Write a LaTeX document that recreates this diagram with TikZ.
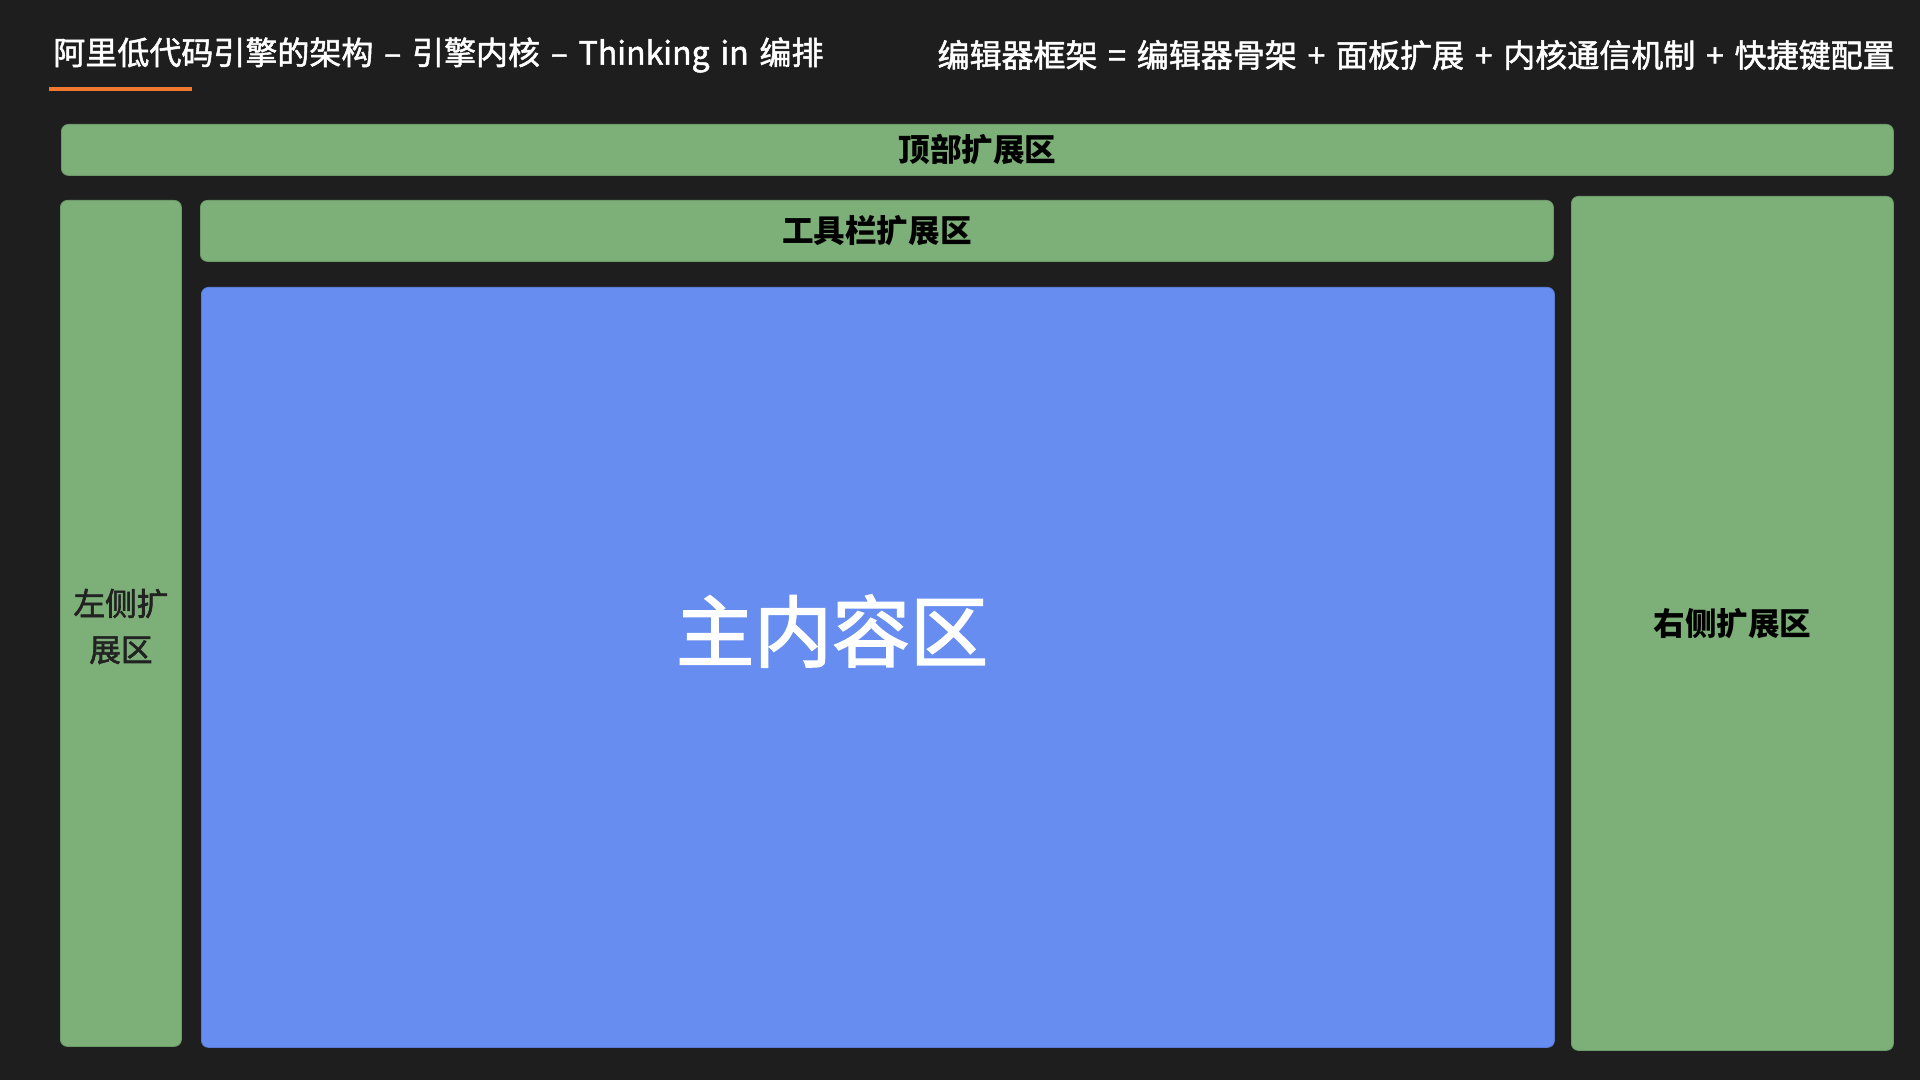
\documentclass[tikz,border=0pt]{standalone}
\usepackage{fontspec}
\setmainfont{Noto Sans CJK SC}
\newfontfamily\cjk{Noto Sans CJK SC}
\newfontfamily\cjkt[WordSpace=1.5]{Noto Sans CJK SC}
\newcommand\medtext[2]{\special{pdf:literal direct 2 Tr #1 w}#2\special{pdf:literal direct 0 Tr}}
\definecolor{bgc}{HTML}{1E1E1E}
\definecolor{greenc}{HTML}{7DAF78}
\definecolor{greenb}{HTML}{6C9A68}
\definecolor{bluec}{HTML}{678DF1}
\definecolor{blueb}{HTML}{5A7BD6}
\definecolor{orangec}{HTML}{F07830}
\definecolor{darktxt}{HTML}{222222}
\tikzset{
  zone/.style={draw=greenb, line width=0.4pt, fill=greenc, rounded corners=3.5pt, anchor=north west, inner sep=0pt},
  mainzone/.style={draw=blueb, line width=0.4pt, fill=bluec, rounded corners=3.5pt, anchor=north west, inner sep=0pt},
  zlabel/.style={font=\cjk\bfseries\fontsize{15.8}{19}\selectfont, text=black},
  ttl/.style={font=\cjkt\fontsize{16}{19}\selectfont, text=white, inner sep=0pt}
}
\begin{document}
\begin{tikzpicture}[x=0.5pt, y=-0.5pt]
\fill[bgc] (0,0) rectangle (1920,1080);
\useasboundingbox (0,0) rectangle (1920,1080);
% titles
\node[ttl, anchor=west] (title) at (53,55) {\medtext{0.25}{阿里低代码引擎的架构 – 引擎内核 – Thinking in 编排}};
\node[ttl, anchor=east] (formula) at (1895,55) {\medtext{0.25}{编辑器框架 = 编辑器骨架 + 面板扩展 + 内核通信机制 + 快捷键配置}};
\coordinate (ulA) at (49,89);
\coordinate (ulB) at (192,89);
\draw[orangec, line width=2pt] (ulA) -- (ulB);
% zones
\node[zone, minimum width=916pt, minimum height=25.5pt] (top) at (61,124) {};
\node[zlabel] (toplbl) at (top.center) {顶部扩展区};
\node[zone, minimum width=60.5pt, minimum height=423pt] (left) at (60,200) {};
\node[font=\cjk\fontsize{15.8}{23}\selectfont, text=darktxt, align=center] (leftlbl) at ([yshift=-1.5pt]left.center) {\medtext{0.3}{左侧扩}\\\medtext{0.3}{展区}};
\node[zone, minimum width=676.5pt, minimum height=30.5pt] (tool) at (200,200) {};
\node[zlabel] (toollbl) at (tool.center) {工具栏扩展区};
\node[mainzone, minimum width=676.5pt, minimum height=380pt] (main) at (201,287) {};
\node[font=\cjk\fontsize{39}{45}\selectfont, text=white, inner sep=0pt] (mainlbl) at (832,631) {\medtext{0.8}{主内容区}};
\node[zone, minimum width=161pt, minimum height=427pt] (right) at (1571,196) {};
\node[zlabel] (rightlbl) at (right.center) {右侧扩展区};
\end{tikzpicture}
\end{document}
